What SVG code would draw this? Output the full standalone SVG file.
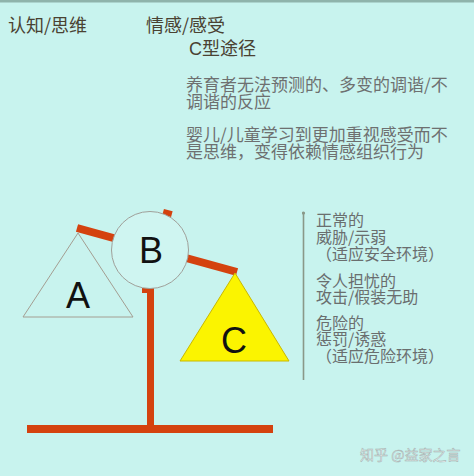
<svg xmlns="http://www.w3.org/2000/svg" width="474" height="476" viewBox="0 0 474 476">
<defs>
<style>
.title{font-family:"Noto Sans CJK SC","Liberation Sans",sans-serif;font-size:18px;fill:#4a4232}
.para{font-family:"Noto Sans CJK SC",sans-serif;font-size:17px;fill:#6e7070}
.side{font-family:"Noto Sans CJK SC",sans-serif;font-size:16px;fill:#6a6e6e}
.big{font-family:"Liberation Sans",Arial,sans-serif;font-size:36px;fill:#111;text-anchor:middle}
.bar{fill:#d4420f}
</style>
<marker id="dot" markerWidth="4" markerHeight="4" refX="2" refY="2" markerUnits="userSpaceOnUse">
<circle cx="2" cy="2" r="1.6" fill="#8a9888"/>
</marker>
</defs>
<rect x="0" y="0" width="474" height="476" fill="#c8f3ee"/>
<rect x="0" y="0" width="474" height="2.5" fill="#8fb3ab"/>

<g id="headings">
<text class="title" x="8" y="32">认知/思维</text>
<text class="title" x="146" y="32">情感/感受</text>
<text class="title" x="189" y="55"><tspan font-family="Liberation Sans,sans-serif">C</tspan>型途径</text>
</g>

<g id="desc">
<text class="para" x="186" y="91">养育者无法预测的、多变的调谐/不</text>
<text class="para" x="186" y="108">调谐的反应</text>
<text class="para" x="186" y="141">婴儿/儿童学习到更加重视感受而不</text>
<text class="para" x="186" y="158">是思维，变得依赖情感组织行为</text>
</g>

<g id="scale">
<rect class="bar" x="27" y="425" width="246" height="8"/>
<rect class="bar" x="147" y="290" width="7" height="137"/>
<rect class="bar" x="142" y="288" width="12" height="5"/>
<line x1="77" y1="228" x2="237" y2="272" stroke="#d4420f" stroke-width="8"/>
<rect class="bar" x="163" y="210" width="9" height="6" transform="rotate(15 167.5 213)"/>
</g>

<g id="node-A">
<polygon points="78,233 23,317 133,317" fill="none" stroke="#a49e92" stroke-width="1"/>
<text class="big" x="78" y="308">A</text>
</g>

<g id="node-B">
<circle cx="150" cy="250" r="38.5" fill="#cff5f1" stroke="#a0a09a" stroke-width="1"/>
<text class="big" x="151" y="263">B</text>
</g>

<g id="node-C">
<polygon points="235,273 180,361 289,361" fill="#fbf400" stroke="#c9b800" stroke-width="1"/>
<text class="big" x="234" y="353">C</text>
</g>

<g id="connectors">
<line x1="303.5" y1="380" x2="303.5" y2="213" stroke="#8a9888" stroke-width="1.6" marker-end="url(#dot)"/>
</g>

<g id="side-labels">
<text class="side" x="316" y="226">正常的</text>
<text class="side" x="316" y="243">威胁/示弱</text>
<text class="side" x="316" y="260">（适应安全环境）</text>
<text class="side" x="316" y="287">令人担忧的</text>
<text class="side" x="316" y="303">攻击/假装无助</text>
<text class="side" x="316" y="329">危险的</text>
<text class="side" x="316" y="345">惩罚/诱惑</text>
<text class="side" x="316" y="362">（适应危险环境）</text>
</g>

<g id="watermark">
<text x="360" y="460" font-family="Noto Sans CJK SC,sans-serif" font-size="14" fill="#eef5f4" stroke="#a3b0ae" stroke-width="0.5">知乎 @益家之言</text>
</g>
</svg>
